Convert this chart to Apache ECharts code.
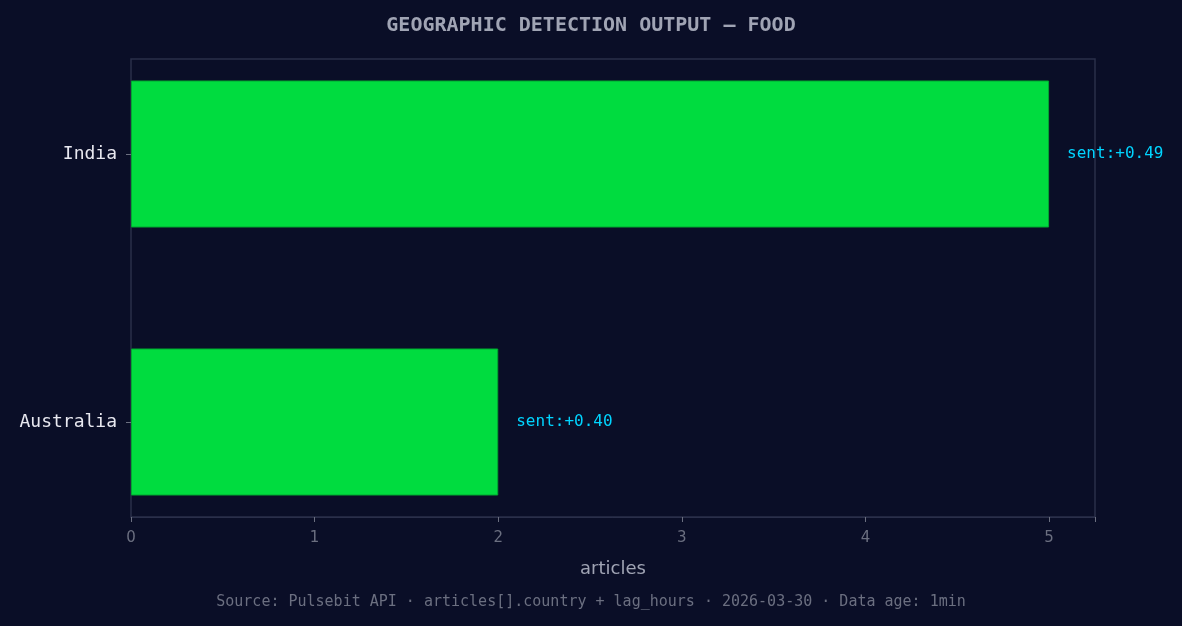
<!DOCTYPE html>
<html><head><meta charset="utf-8">
<script src="https://cdn.jsdelivr.net/npm/echarts@6/dist/echarts.min.js"></script>
<style>html,body{margin:0;background:#0a0e27;}#c{width:1182px;height:626px;}</style>
</head><body><div id="c"></div>
<script>
const categories = ["Australia", "India"];
const articles = [2, 5];
const sentLabels = ["sent:+0.40", "sent:+0.49"];
const xTicks = [0, 1, 2, 3, 4, 5];

const chart = echarts.init(document.getElementById('c'));
chart.setOption({
  backgroundColor: '#0a0e27',
  title: {
    text: 'GEOGRAPHIC DETECTION OUTPUT — FOOD',
    left: 'center', top: 11,
    textStyle: {color: '#a0a4b4', fontFamily: 'DejaVu Sans Mono', fontSize: 20, fontWeight: 'bold'}
  },
  graphic: [{
    type: 'rect', shape: {x: 131, y: 59, width: 964, height: 458}, silent: true,
    style: {fill: 'none', stroke: '#2a2f4a', lineWidth: 1.5}
  }, {
    type: 'text', left: 'center', top: 595,
    style: {text: 'Source: Pulsebit API · articles[].country + lag_hours · 2026-03-30 · Data age: 1min',
      fill: '#6b6f80', font: '15px "DejaVu Sans Mono"'}
  }],
  grid: {left: 131, right: 87, top: 20, bottom: 70},
  xAxis: {
    type: 'value', min: 0, max: 5.25, interval: 1, offset: -39,
    name: 'articles', nameLocation: 'middle', nameGap: 43,
    nameTextStyle: {color: '#a0a4b4', fontSize: 18, fontFamily: 'DejaVu Sans'},
    axisLine: {show: true, lineStyle: {color: '#2a2f4a'}},
    axisTick: {show: true, lineStyle: {color: '#6b6f80'}},
    splitLine: {show: false},
    axisLabel: {color: '#6b6f80', fontSize: 15, fontFamily: 'DejaVu Sans', margin: 14,
      formatter: v => xTicks.includes(v) ? String(v) : ''}
  },
  yAxis: {
    type: 'category', data: categories,
    axisLine: {show: false},
    axisTick: {show: true, alignWithLabel: true, length: 5, lineStyle: {color: '#6b6f80'}},
    axisLabel: {color: '#e8e8f0', fontSize: 18, fontFamily: 'DejaVu Sans Mono', margin: 14}
  },
  series: [{
    type: 'bar', data: articles, barWidth: 147,
    itemStyle: {color: '#00dc3f', borderColor: '#00a830', borderWidth: 1},
    label: {show: true, position: 'right', distance: 18,
      formatter: p => sentLabels[p.dataIndex],
      color: '#00d4ff', fontSize: 16, fontFamily: 'DejaVu Sans Mono'}
  }]
});
</script></body></html>
